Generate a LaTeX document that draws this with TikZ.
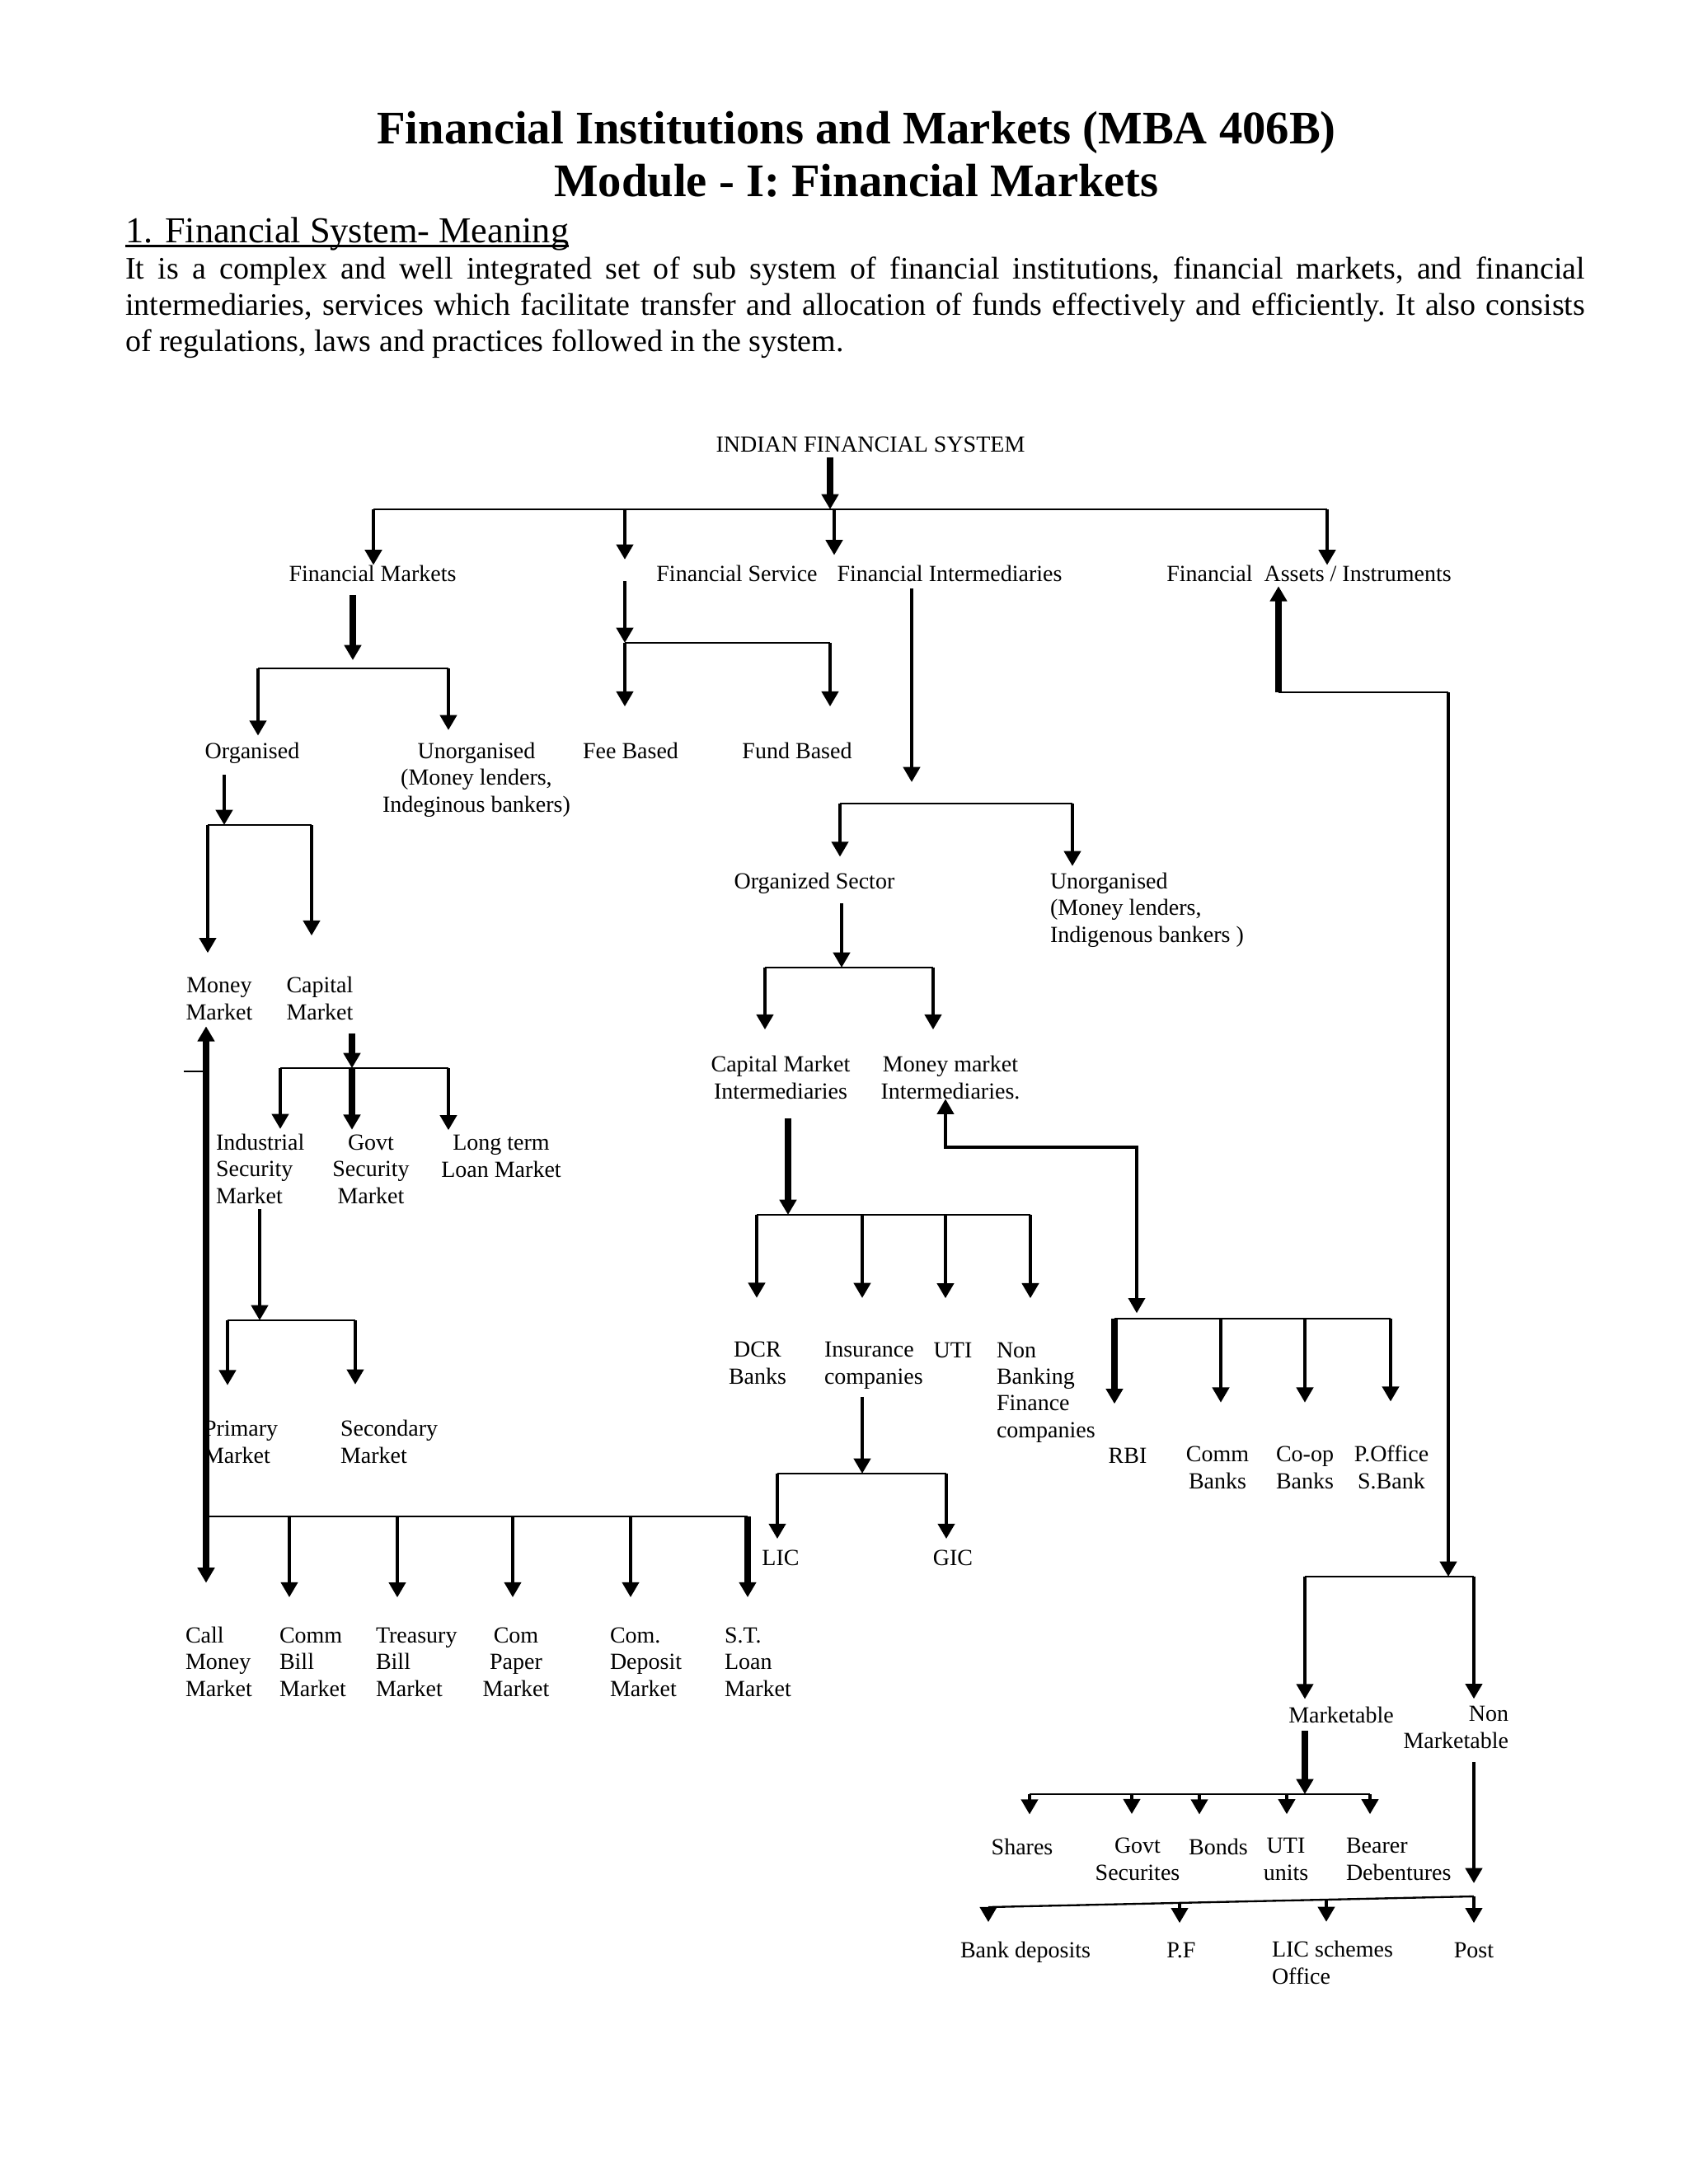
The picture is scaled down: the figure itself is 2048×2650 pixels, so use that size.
\documentclass[tikz,border=0pt]{standalone}
\usepackage{fontspec}
\setmainfont{Liberation Serif}
\usetikzlibrary{arrows.meta}
\newcommand\chartfont{\fontsize{8.4}{9.7}\selectfont}

\begin{document}
\begin{tikzpicture}[x=0.10542mm, y=-0.10542mm,
  >={Triangle[width=6pt,length=5.5pt]},
  every node/.style={inner sep=0pt, outer sep=0pt, font=\chartfont},
  lbl/.style={anchor=base, align=center},
  lbll/.style={anchor=base west, align=left},
  bar/.style={line width=0.7pt},
  drop/.style={line width=1.3pt, ->},
  heavy/.style={line width=2.2pt, ->}]
  \useasboundingbox[fill=white] (0,0) rectangle (2048,2650);

  % page heading
  \node[anchor=base, font=\fontsize{17}{20}\selectfont\bfseries] (title) at (1039,174) {Financial Institutions and Markets (MBA 406B)};
  \node[anchor=base, font=\fontsize{17}{20}\selectfont\bfseries] (module) at (1039,238) {Module - I: Financial Markets};
  \node[anchor=base west, font=\fontsize{13.3}{16}\selectfont] (heading) at (152,294) {1. Financial System- Meaning};
  \draw[line width=0.8pt] ([yshift=-1.3pt]heading.base west) -- ([yshift=-1.3pt]heading.base east);
  \node[anchor=base west, text width=186.7mm, align=justify, font=\fontsize{11.4}{13.2}\selectfont\frenchspacing] (intro) at (152,338)
    {It is a complex and well integrated set of sub system of financial institutions, financial markets, and financial\linebreak
     intermediaries, services which facilitate transfer and allocation of funds effectively and efficiently. It also consists\linebreak
     of regulations, laws and practices followed in the system.};

  % chart labels (multi-line labels sit on their last line)
  \node[lbl] (ifs) at (1056,548) {INDIAN FINANCIAL SYSTEM};
  \node[lbl] (fm) at (452,705) {Financial Markets};
  \node[lbl] (fs) at (894,705) {Financial Service};
  \node[lbl] (fi) at (1152,705) {Financial Intermediaries};
  \node[lbl] (fa) at (1588,705) {Financial\ \ Assets / Instruments};
  \node[lbl] (org) at (306,920) {Organised};
  \node[lbl] (unorg) at (578,985) {Unorganised\\(Money lenders,\\Indeginous bankers)};
  \node[lbl] (fee) at (765,920) {Fee Based};
  \node[lbl] (fund) at (967,920) {Fund Based};
  \node[lbl] (money) at (266,1237) {Money\\Market};
  \node[lbl] (capital) at (388,1237) {Capital\\Market};
  \node[lbll] (ism) at (262,1460) {Industrial\\Security\\Market};
  \node[lbl] (gsm) at (450,1460) {Govt\\Security\\Market};
  \node[lbl] (ltm) at (608,1428) {Long term\\Loan Market};
  \node[lbll] (primary) at (247,1775) {Primary\\Market};
  \node[lbll] (secondary) at (413,1775) {Secondary\\Market};
  \node[lbll] (call) at (225,2058) {Call\\Money\\Market};
  \node[lbll] (commbill) at (339,2058) {Comm\\Bill\\Market};
  \node[lbll] (treasury) at (456,2058) {Treasury\\Bill\\Market};
  \node[lbl] (compaper) at (626,2058) {Com\\Paper\\Market};
  \node[lbll] (comdep) at (740,2058) {Com.\\Deposit\\Market};
  \node[lbll] (stloan) at (879,2058) {S.T.\\Loan\\Market};
  \node[lbl] (orgsec) at (988,1078) {Organized Sector};
  \node[lbll] (unorg2) at (1274,1143) {Unorganised\\(Money lenders,\\Indigenous bankers )};
  \node[lbl] (cmi) at (947,1333) {Capital Market\\Intermediaries};
  \node[lbl] (mmi) at (1153,1333) {Money market\\Intermediaries.};
  \node[lbl] (dcr) at (919,1679) {DCR\\Banks};
  \node[lbll] (ins) at (1000,1679) {Insurance\\companies};
  \node[lbl] (uti) at (1156,1647) {UTI};
  \node[lbll] (nbfc) at (1209,1744) {Non\\Banking\\Finance\\companies};
  \node[lbl] (lic) at (947,1899) {LIC};
  \node[lbl] (gic) at (1156,1899) {GIC};
  \node[lbl] (rbi) at (1368,1775) {RBI};
  \node[lbl] (commbk) at (1477,1806) {Comm\\Banks};
  \node[lbl] (coop) at (1583,1806) {Co-op\\Banks};
  \node[lbl] (poffice) at (1688,1806) {P.Office\\S.Bank};
  \node[lbl] (mkt) at (1627,2090) {Marketable};
  \node[anchor=base east, align=right] (nonmkt) at (1830,2121) {Non\\Marketable};
  \node[lbl] (shares) at (1240,2250) {Shares};
  \node[lbl] (govtsec) at (1380,2281) {Govt\\Securites};
  \node[lbl] (bonds) at (1478,2250) {Bonds};
  \node[lbl] (utiunits) at (1560,2281) {UTI\\units};
  \node[lbll] (bearer) at (1633,2281) {Bearer\\Debentures};
  \node[lbl] (bankdep) at (1244,2375) {Bank deposits};
  \node[lbl] (pf) at (1433,2375) {P.F};
  \node[lbll] (licsch) at (1543,2407) {LIC schemes\\Office};
  \node[lbl] (post) at (1788,2375) {Post};

  % main branches
  \coordinate (top) at (1007,618);
  \coordinate (brfm) at (453,618);
  \coordinate (brfs) at (758,618);
  \coordinate (brfi) at (1012,618);
  \coordinate (brfa) at (1610,618);
  \draw[heavy, shorten <=2pt] (ifs.south -| top) -- (top);
  \draw[bar] (brfm) -- (brfa);
  \draw[drop] (brfm) -- (brfm |- fm.north);
  \draw[drop, shorten >=2pt] (brfs) -- (brfs |- fs.north);
  \draw[drop, shorten >=3.6pt] (brfi) -- (brfi |- fi.north);
  \draw[drop] (brfa) -- (brfa |- fa.north);

  % financial markets
  \coordinate (fmj) at (428,811);
  \coordinate (fml) at (313,811);
  \coordinate (fmr) at (544,811);
  \draw[heavy, shorten <=5pt, shorten >=3pt] (fm.south -| fmj) -- (fmj);
  \draw[bar] (fml) -- (fmr);
  \draw[drop, shorten >=2.4pt] (fml) -- (fml |- org.north);
  \draw[drop, shorten >=4.5pt] (fmr) -- (fmr |- unorg.north);

  \coordinate (orj) at (272,1001);
  \coordinate (orl) at (252,1001);
  \coordinate (orr) at (378,1001);
  \draw[drop, shorten <=4.2pt] (org.south -| orj) -- (orj);
  \draw[bar] (orl) -- (orr);
  \draw[drop, shorten >=9pt] (orl) -- (orl |- money.north);
  \draw[drop, shorten >=15pt] (orr) -- (orr |- capital.north);

  \coordinate (caj) at (427,1296);
  \coordinate (cal) at (340,1296);
  \coordinate (car) at (544,1296);
  \draw[heavy, shorten <=5pt] (capital.south -| caj) -- (caj);
  \draw[bar] (cal) -- (car);
  \draw[drop, shorten >=1.8pt] (cal) -- (cal |- ism.north);
  \draw[heavy, shorten >=1.8pt] (caj) -- (caj |- gsm.north);
  \draw[drop, shorten >=1.8pt] (car) -- (car |- ltm.north);

  \coordinate (isj) at (315,1602);
  \coordinate (isl) at (276,1602);
  \coordinate (isr) at (431,1602);
  \draw[drop, shorten <=2pt] (ism.south -| isj) -- (isj);
  \draw[bar] (isl) -- (isr);
  \draw[drop, shorten >=13pt] (isl) -- (isl |- primary.north);
  \draw[drop, shorten >=13pt] (isr) -- (isr |- secondary.north);

  % money market instruments
  \coordinate (mml) at (250,1840);
  \coordinate (stub) at (223,1300);
  \coordinate (mmb2) at (351,1840);
  \coordinate (mmb3) at (482,1840);
  \coordinate (mmb4) at (622,1840);
  \coordinate (mmb5) at (765,1840);
  \coordinate (mmb6) at (907,1840);
  \draw[heavy, <-, shorten <=2.4pt] (money.south -| mml) -- (mml);
  \draw[heavy, shorten >=16pt] (mml) -- (mml |- call.north);
  \draw[bar] (stub) -- (stub -| mml);
  \draw[bar] (mml) -- (mmb6);
  \draw[drop, shorten >=11pt] (mmb2) -- (mmb2 |- commbill.north);
  \draw[drop, shorten >=11pt] (mmb3) -- (mmb3 |- treasury.north);
  \draw[drop, shorten >=11pt] (mmb4) -- (mmb4 |- compaper.north);
  \draw[drop, shorten >=11pt] (mmb5) -- (mmb5 |- comdep.north);
  \draw[heavy, shorten >=11pt] (mmb6) -- (mmb6 |- stloan.north);

  % financial services
  \coordinate (fsj) at (758,780);
  \coordinate (fsr) at (1007,780);
  \draw[drop] (fs.south -| fsj) -- (fsj);
  \draw[bar] (fsj) -- (fsr);
  \draw[drop, shorten >=13pt] (fsj) -- (fsj |- fee.north);
  \draw[drop, shorten >=13pt] (fsr) -- (fsr |- fund.north);

  % financial intermediaries
  \coordinate (fia) at (1106,949);
  \coordinate (fil) at (1019,975);
  \coordinate (fir) at (1301,975);
  \draw[drop, shorten <=2.7pt] (fi.south -| fia) -- (fia);
  \draw[bar] (fil) -- (fir);
  \draw[drop, shorten >=5.7pt] (fil) -- (fil |- orgsec.north);
  \draw[drop, shorten >=2.4pt] (fir) -- (fir |- unorg2.north);

  \coordinate (osj) at (1021,1174);
  \coordinate (osl) at (928,1174);
  \coordinate (osr) at (1132,1174);
  \draw[drop, shorten <=3.6pt] (orgsec.south -| osj) -- (osj);
  \draw[bar] (osl) -- (osr);
  \draw[drop, shorten >=9.6pt] (osl) -- (osl |- cmi.north);
  \draw[drop, shorten >=9.6pt] (osr) -- (osr |- mmi.north);

  \coordinate (cmj) at (956,1474);
  \coordinate (cm1) at (918,1474);
  \coordinate (cm2) at (1046,1474);
  \coordinate (cm3) at (1147,1474);
  \coordinate (cm4) at (1250,1474);
  \draw[heavy, shorten <=7pt] (cmi.south -| cmj) -- (cmj);
  \draw[bar] (cm1) -- (cm4);
  \draw[drop, shorten >=16pt] (cm1) -- (cm1 |- dcr.north);
  \draw[drop, shorten >=16pt] (cm2) -- (cm2 |- ins.north);
  \draw[drop, shorten >=16pt] (cm3) -- (cm3 |- uti.north);
  \draw[drop, shorten >=16pt] (cm4) -- (cm4 |- nbfc.north);

  \coordinate (inj) at (1046,1788);
  \coordinate (inl) at (943,1788);
  \coordinate (inr) at (1148,1788);
  \draw[drop, shorten <=3pt] (ins.south -| inj) -- (inj);
  \draw[bar] (inl) -- (inr);
  \draw[drop, shorten >=4pt] (inl) -- (inl |- lic.north);
  \draw[drop, shorten >=4pt] (inr) -- (inr |- gic.north);

  \coordinate (mmc) at (1147,1392);
  \coordinate (rbj) at (1379,1600);
  \coordinate (rb1) at (1352,1600);
  \coordinate (rb2) at (1481,1600);
  \coordinate (rb3) at (1583,1600);
  \coordinate (rb4) at (1687,1600);
  \draw[line width=1.1pt, <->, shorten >=2pt] (mmi.south -| mmc) -- (mmc) -- (mmc -| rbj) -- (rbj);
  \draw[bar] (rb1) -- (rb4);
  \draw[heavy, shorten >=16pt] (rb1) -- (rb1 |- rbi.north);
  \draw[drop, shorten >=16pt] (rb2) -- (rb2 |- commbk.north);
  \draw[drop, shorten >=16pt] (rb3) -- (rb3 |- coop.north);
  \draw[drop, shorten >=16pt] (rb4) -- (rb4 |- poffice.north);

  % financial assets
  \coordinate (faa) at (1551,840);
  \coordinate (fab) at (1757,840);
  \coordinate (avj) at (1757,1913);
  \coordinate (avl) at (1583,1913);
  \coordinate (avr) at (1788,1913);
  \draw[heavy, <-, shorten <=1.8pt] (fa.south -| faa) -- (faa);
  \draw[bar] (faa) -- (fab);
  \draw[drop] (fab) -- (avj);
  \draw[bar] (avl) -- (avr);
  \draw[drop, shorten >=2.7pt] (avl) -- (avl |- mkt.north);
  \draw[drop, shorten >=2.7pt] (avr) -- (avr |- nonmkt.north);

  \coordinate (mkj) at (1583,2177);
  \coordinate (mk1) at (1249,2177);
  \coordinate (mk2) at (1373,2177);
  \coordinate (mk3) at (1455,2177);
  \coordinate (mk4) at (1561,2177);
  \coordinate (mk5) at (1662,2177);
  \draw[heavy, shorten <=3pt] (mkt.south -| mkj) -- (mkj);
  \draw[bar] (mk1) -- (mk5);
  \draw[drop, shorten >=8.7pt] (mk1) -- (mk1 |- shares.north);
  \draw[drop, shorten >=8.7pt] (mk2) -- (mk2 |- govtsec.north);
  \draw[drop, shorten >=8.7pt] (mk3) -- (mk3 |- bonds.north);
  \draw[drop, shorten >=8.7pt] (mk4) -- (mk4 |- utiunits.north);
  \draw[drop, shorten >=8.7pt] (mk5) -- (mk5 |- bearer.north);

  \coordinate (nmj) at (1788,2301);
  \coordinate (nml) at (1199,2314);
  \coordinate (nm2) at (1431,2309);
  \coordinate (nm3) at (1609,2305);
  \draw[drop, shorten <=5pt, shorten >=4.8pt] (nonmkt.south -| nmj) -- (nmj);
  \draw[bar] (nmj) -- (nml);
  \draw[drop, shorten >=7pt] (nml) -- (nml |- bankdep.north);
  \draw[drop, shorten >=7pt] (nm2) -- (nm2 |- pf.north);
  \draw[drop, shorten >=7pt] (nm3) -- (nm3 |- licsch.north);
  \draw[drop, shorten >=7pt] (nmj) -- (nmj |- post.north);
\end{tikzpicture}
\end{document}
